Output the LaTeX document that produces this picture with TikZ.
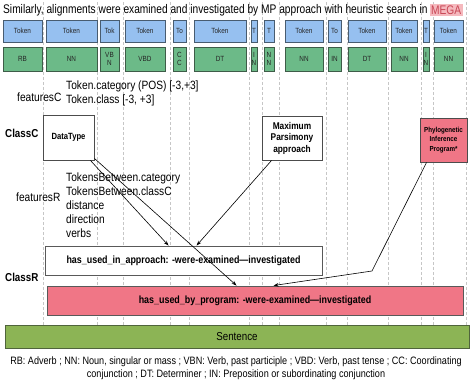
\documentclass[tikz,border=0pt]{standalone}
\usepackage{fontspec}
\setmainfont{Liberation Sans}
\newfontfamily\cf[FakeStretch=0.85]{Liberation Sans}
\newfontfamily\tf[FakeStretch=0.815]{Liberation Sans}
\usetikzlibrary{arrows.meta,calc}
\definecolor{tokblue}{RGB}{150,192,240}
\definecolor{tokline}{RGB}{72,92,112}
\definecolor{taggreen}{RGB}{108,186,136}
\definecolor{tagline}{RGB}{62,92,72}
\definecolor{sentgreen}{RGB}{140,180,85}
\definecolor{sentline}{RGB}{80,100,60}
\definecolor{pinkbox}{RGB}{240,118,134}
\definecolor{megabg}{RGB}{245,185,190}
\definecolor{megatext}{RGB}{200,70,85}
\tikzset{
  guide/.style={draw=gray!45, dash pattern=on 3pt off 2pt, line width=0.5pt},
  tokbox/.style={draw=tokline, fill=tokblue, line width=0.8pt, inner sep=0pt,
    minimum height=22pt, font=\cf\fontsize{7.5}{8}\selectfont, text=black!85},
  tagbox/.style={draw=tagline, fill=taggreen, line width=0.8pt, inner sep=0pt,
    minimum height=24pt, align=center, font=\cf\fontsize{7.5}{8}\selectfont, text=black!85},
  classbox/.style={draw=black!70, fill=white, line width=0.9pt, inner sep=0pt, align=center},
  relbox/.style={draw=black!65, line width=0.9pt, inner sep=0pt,
    font=\cf\bfseries\fontsize{10.5}{12}\selectfont},
  lbl/.style={inner sep=0pt, anchor=west, font=\cf\fontsize{12}{14}\selectfont},
  lblb/.style={inner sep=0pt, anchor=west, font=\cf\bfseries\fontsize{11.5}{13}\selectfont},
  arr/.style={draw=black, line width=0.6pt, -{Stealth[length=5pt,width=3.5pt]}}
}
\begin{document}
\begin{tikzpicture}[x=1pt,y=-1pt]
\useasboundingbox (0,0) rectangle (474,382);
\fill[white] (0,0) rectangle (474,382);

% dashed guide lines
\foreach \gx in {43,97,123,170,189,249,262,279,326,347,388,421,433,466}
  \draw[guide] (\gx,2) -- (\gx,325);

% title
\node[inner sep=0pt, anchor=west, font=\tf\fontsize{12.5}{14}\selectfont] (title) at (3,10)
  {Similarly, alignments were examined and investigated by MP approach with heuristic search in};
\node[inner sep=1.5pt, anchor=west, fill=megabg, text=megatext, font=\tf\fontsize{12.5}{14}\selectfont]
  (mega) at ([xshift=1.5pt]title.east) {MEGA};

% tokens and tags
\foreach \a/\b/\tk/\tg [count=\i] in {
  3/42/Token/RB, 46/97/Token/NN, 100/119/Tok/{VB\\N}, 125/165/Token/VBD,
  173/186/To/{C\\C}, 194/246/Token/DT, 251/257/T/{I\\N}, 264/274/T/{N\\N},
  285/323/Token/NN, 328/341/To/IN, 348/386/Token/DT, 391/417/Token/NN,
  423/429/T/{I\\N}, 434/463/Token/NN}{
  \pgfmathsetmacro{\cx}{(\a+\b)/2}
  \pgfmathsetmacro{\w}{\b-\a}
  \node[tokbox, minimum width=\w pt] (tok\i) at (\cx,31) {\tk};
  \node[tagbox, minimum width=\w pt] (tag\i) at (\cx,59) {\tg};
}

% feature labels
\node[lbl] (fc) at (17,97) {featuresC};
\node[lbl, anchor=north west, align=left] (fcl) at (66,81)
  {Token.category (POS) [-3,+3]\\Token.class [-3, +3]};
\node[lblb] (cc) at (5,133) {ClassC};
\node[lbl] (fr) at (16,197) {featuresR};
\node[lbl, anchor=north west, align=left] (frl) at (66,173)
  {TokensBetween.category\\TokensBetween.classC\\distance\\direction\\verbs};
\node[lblb] (cr) at (5,277) {ClassR};

% class boxes
\node[classbox, minimum width=51pt, minimum height=45pt,
  font=\cf\bfseries\fontsize{9}{10}\selectfont] (dt) at (68.5,137.5) {DataType};
\node[classbox, minimum width=60pt, minimum height=44pt,
  font=\cf\bfseries\fontsize{9.8}{11.5}\selectfont] (mp) at (292,138) {Maximum\\Parsimony\\approach};
\node[classbox, fill=pinkbox, minimum width=47pt, minimum height=44pt,
  font=\cf\bfseries\fontsize{7.3}{9.5}\selectfont] (phy) at (443.5,140) {Phylogenetic\\Inference\\Program*};

% relation boxes
\node[relbox, fill=white, minimum width=277pt, minimum height=29pt] (ina) at (183.5,260.5)
  {has\_used\_in\_approach: -were-examined—investigated};
\node[relbox, fill=pinkbox, minimum width=416pt, minimum height=29pt] (prog) at (255,300.5)
  {has\_used\_by\_program: -were-examined—investigated};

% sentence
\node[draw=sentline, fill=sentgreen, line width=0.8pt, minimum width=464pt, minimum height=23pt,
  inner sep=0pt, font=\cf\fontsize{11.5}{13}\selectfont] (sent) at (237,336.5) {Sentence};

% caption
\node[inner sep=0pt, align=center, font=\cf\fontsize{10.7}{13}\selectfont] (cap) at (236,368.5)
  {RB: Adverb ; NN: Noun, singular or mass ; VBN: Verb, past participle ; VBD: Verb, past tense ; CC: Coordinating\\
   conjunction ; DT: Determiner ; IN: Preposition or subordinating conjunction};

% connectors
\coordinate (bend) at (372,271);
\draw[arr] ([xshift=-4pt]dt.south east) -- ([xshift=124pt]ina.north west);
\draw[arr] ([yshift=2pt]dt.south east) -- ([xshift=190pt]prog.north west);
\draw[arr] ([xshift=10pt]mp.south west) -- ([xshift=152pt]ina.north west);
\draw[arr] ([xshift=7pt]phy.south west) -- (bend) -- ([xshift=227pt]prog.north west);
\end{tikzpicture}
\end{document}
